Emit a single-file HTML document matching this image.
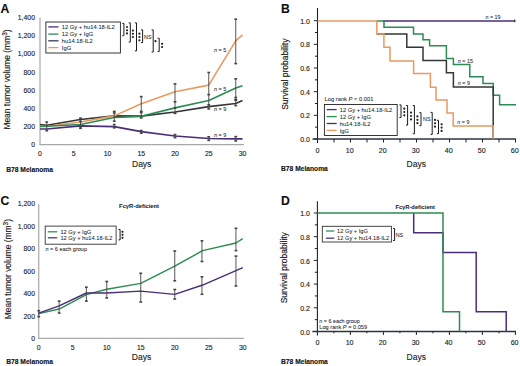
<!DOCTYPE html>
<html><head><meta charset="utf-8"><style>
html,body{margin:0;padding:0;background:#fff;width:520px;height:366px;overflow:hidden;}
svg{display:block;}
svg text{font-family:"Liberation Sans", sans-serif;}
</style></head><body>
<svg width="520" height="366" viewBox="0 0 520 366">
<rect width="520" height="366" fill="#fff"/>
<text transform="translate(0.40,12.60) scale(1,1.08)" font-size="12.2" text-anchor="start" font-weight="bold" font-style="normal" fill="#111" stroke="#111" stroke-width="0.12" >A</text>
<line x1="40.00" y1="17.50" x2="40.00" y2="144.60" stroke="#a8a8a8" stroke-width="1.2" />
<line x1="39.40" y1="144.70" x2="243.80" y2="144.70" stroke="#a8a8a8" stroke-width="1.3" />
<text transform="translate(35.00,147.45) scale(1,1.12)" font-size="6.9" text-anchor="end" font-weight="normal" font-style="normal" fill="#222" stroke="#222" stroke-width="0.12" >0</text>
<text transform="translate(35.00,129.25) scale(1,1.12)" font-size="6.9" text-anchor="end" font-weight="normal" font-style="normal" fill="#222" stroke="#222" stroke-width="0.12" >200</text>
<text transform="translate(35.00,111.05) scale(1,1.12)" font-size="6.9" text-anchor="end" font-weight="normal" font-style="normal" fill="#222" stroke="#222" stroke-width="0.12" >400</text>
<text transform="translate(35.00,92.85) scale(1,1.12)" font-size="6.9" text-anchor="end" font-weight="normal" font-style="normal" fill="#222" stroke="#222" stroke-width="0.12" >600</text>
<text transform="translate(35.00,74.65) scale(1,1.12)" font-size="6.9" text-anchor="end" font-weight="normal" font-style="normal" fill="#222" stroke="#222" stroke-width="0.12" >800</text>
<text transform="translate(35.00,56.45) scale(1,1.12)" font-size="6.9" text-anchor="end" font-weight="normal" font-style="normal" fill="#222" stroke="#222" stroke-width="0.12" >1,000</text>
<text transform="translate(35.00,38.25) scale(1,1.12)" font-size="6.9" text-anchor="end" font-weight="normal" font-style="normal" fill="#222" stroke="#222" stroke-width="0.12" >1,200</text>
<text transform="translate(35.00,20.05) scale(1,1.12)" font-size="6.9" text-anchor="end" font-weight="normal" font-style="normal" fill="#222" stroke="#222" stroke-width="0.12" >1,400</text>
<text transform="translate(40.00,156.00) scale(1,1.12)" font-size="6.9" text-anchor="middle" font-weight="normal" font-style="normal" fill="#222" stroke="#222" stroke-width="0.12" >0</text>
<text transform="translate(73.75,156.00) scale(1,1.12)" font-size="6.9" text-anchor="middle" font-weight="normal" font-style="normal" fill="#222" stroke="#222" stroke-width="0.12" >5</text>
<text transform="translate(107.50,156.00) scale(1,1.12)" font-size="6.9" text-anchor="middle" font-weight="normal" font-style="normal" fill="#222" stroke="#222" stroke-width="0.12" >10</text>
<text transform="translate(141.25,156.00) scale(1,1.12)" font-size="6.9" text-anchor="middle" font-weight="normal" font-style="normal" fill="#222" stroke="#222" stroke-width="0.12" >15</text>
<text transform="translate(175.00,156.00) scale(1,1.12)" font-size="6.9" text-anchor="middle" font-weight="normal" font-style="normal" fill="#222" stroke="#222" stroke-width="0.12" >20</text>
<text transform="translate(208.75,156.00) scale(1,1.12)" font-size="6.9" text-anchor="middle" font-weight="normal" font-style="normal" fill="#222" stroke="#222" stroke-width="0.12" >25</text>
<text transform="translate(242.50,156.00) scale(1,1.12)" font-size="6.9" text-anchor="middle" font-weight="normal" font-style="normal" fill="#222" stroke="#222" stroke-width="0.12" >30</text>
<text x="141.70" y="167.00" font-size="8.5" text-anchor="middle" font-weight="normal" font-style="normal" fill="#222" stroke="#222" stroke-width="0.12" >Days</text>
<text x="6.20" y="171.50" font-size="6.7" text-anchor="start" font-weight="bold" font-style="normal" fill="#111" stroke="#111" stroke-width="0.12" >B78 Melanoma</text>
<text transform="translate(9.9,79.5) rotate(-90)" font-size="8.45" text-anchor="middle" fill="#222" stroke="#222" stroke-width="0.15">Mean tumor volume (mm<tspan font-size="6.5" dy="-3.2">3</tspan><tspan dy="3.2">)</tspan></text>
<polyline points="40.00,124.52 46.75,125.24 80.50,119.57 114.25,115.88 141.25,116.15 175.00,112.01 208.75,106.61 235.75,103.46 242.50,100.49" fill="none" stroke="#363636" stroke-width="1.6" stroke-linejoin="round" stroke-linecap="butt"/>
<polyline points="40.00,126.68 46.75,126.50 80.50,122.00 114.25,115.88 141.25,103.73 175.00,91.76 208.75,85.10 235.75,40.82 242.50,34.97" fill="none" stroke="#e89a62" stroke-width="1.6" stroke-linejoin="round" stroke-linecap="butt"/>
<polyline points="40.00,126.23 46.75,126.23 80.50,124.43 114.25,117.50 141.25,116.33 175.00,107.87 208.75,100.49 235.75,87.98 242.50,85.64" fill="none" stroke="#2c8c52" stroke-width="1.6" stroke-linejoin="round" stroke-linecap="butt"/>
<polyline points="40.00,129.02 46.75,129.02 80.50,125.87 114.25,126.59 141.25,131.63 175.00,136.04 208.75,138.56 235.75,138.92 242.50,138.92" fill="none" stroke="#4a2e7a" stroke-width="1.6" stroke-linejoin="round" stroke-linecap="butt"/>
<line x1="46.75" y1="122.00" x2="46.75" y2="130.70" stroke="#444" stroke-width="0.9" />
<line x1="45.35" y1="122.00" x2="48.15" y2="122.00" stroke="#444" stroke-width="1.6" />
<line x1="45.35" y1="130.70" x2="48.15" y2="130.70" stroke="#444" stroke-width="1.6" />
<line x1="79.10" y1="121.50" x2="81.90" y2="121.50" stroke="#444" stroke-width="1.6" />
<line x1="79.10" y1="126.80" x2="81.90" y2="126.80" stroke="#444" stroke-width="1.6" />
<line x1="80.50" y1="118.20" x2="80.50" y2="128.30" stroke="#444" stroke-width="0.9" />
<line x1="79.10" y1="118.20" x2="81.90" y2="118.20" stroke="#444" stroke-width="1.6" />
<line x1="79.10" y1="128.30" x2="81.90" y2="128.30" stroke="#444" stroke-width="1.6" />
<line x1="112.85" y1="113.00" x2="115.65" y2="113.00" stroke="#444" stroke-width="1.6" />
<line x1="114.25" y1="111.40" x2="114.25" y2="121.20" stroke="#444" stroke-width="0.9" />
<line x1="112.85" y1="111.40" x2="115.65" y2="111.40" stroke="#444" stroke-width="1.6" />
<line x1="112.85" y1="121.20" x2="115.65" y2="121.20" stroke="#444" stroke-width="1.6" />
<line x1="114.25" y1="124.50" x2="114.25" y2="127.80" stroke="#444" stroke-width="0.9" />
<line x1="112.85" y1="124.50" x2="115.65" y2="124.50" stroke="#444" stroke-width="1.6" />
<line x1="112.85" y1="127.80" x2="115.65" y2="127.80" stroke="#444" stroke-width="1.6" />
<line x1="139.85" y1="111.40" x2="142.65" y2="111.40" stroke="#444" stroke-width="1.6" />
<line x1="139.85" y1="112.60" x2="142.65" y2="112.60" stroke="#444" stroke-width="1.6" />
<line x1="141.25" y1="96.60" x2="141.25" y2="117.90" stroke="#444" stroke-width="0.9" />
<line x1="139.85" y1="96.60" x2="142.65" y2="96.60" stroke="#444" stroke-width="1.6" />
<line x1="139.85" y1="117.90" x2="142.65" y2="117.90" stroke="#444" stroke-width="1.6" />
<line x1="141.25" y1="130.50" x2="141.25" y2="133.20" stroke="#444" stroke-width="0.9" />
<line x1="139.85" y1="130.50" x2="142.65" y2="130.50" stroke="#444" stroke-width="1.6" />
<line x1="139.85" y1="133.20" x2="142.65" y2="133.20" stroke="#444" stroke-width="1.6" />
<line x1="173.60" y1="101.80" x2="176.40" y2="101.80" stroke="#444" stroke-width="1.6" />
<line x1="173.60" y1="107.90" x2="176.40" y2="107.90" stroke="#444" stroke-width="1.6" />
<line x1="175.00" y1="83.90" x2="175.00" y2="113.40" stroke="#444" stroke-width="0.9" />
<line x1="173.60" y1="83.90" x2="176.40" y2="83.90" stroke="#444" stroke-width="1.6" />
<line x1="173.60" y1="113.40" x2="176.40" y2="113.40" stroke="#444" stroke-width="1.6" />
<line x1="175.00" y1="134.60" x2="175.00" y2="137.60" stroke="#444" stroke-width="0.9" />
<line x1="173.60" y1="134.60" x2="176.40" y2="134.60" stroke="#444" stroke-width="1.6" />
<line x1="173.60" y1="137.60" x2="176.40" y2="137.60" stroke="#444" stroke-width="1.6" />
<line x1="207.35" y1="94.60" x2="210.15" y2="94.60" stroke="#444" stroke-width="1.6" />
<line x1="207.35" y1="104.80" x2="210.15" y2="104.80" stroke="#444" stroke-width="1.6" />
<line x1="208.75" y1="72.50" x2="208.75" y2="108.90" stroke="#444" stroke-width="0.9" />
<line x1="207.35" y1="72.50" x2="210.15" y2="72.50" stroke="#444" stroke-width="1.6" />
<line x1="207.35" y1="108.90" x2="210.15" y2="108.90" stroke="#444" stroke-width="1.6" />
<line x1="208.75" y1="136.80" x2="208.75" y2="140.40" stroke="#444" stroke-width="0.9" />
<line x1="207.35" y1="136.80" x2="210.15" y2="136.80" stroke="#444" stroke-width="1.6" />
<line x1="207.35" y1="140.40" x2="210.15" y2="140.40" stroke="#444" stroke-width="1.6" />
<line x1="235.75" y1="19.20" x2="235.75" y2="63.60" stroke="#444" stroke-width="0.9" />
<line x1="234.35" y1="19.20" x2="237.15" y2="19.20" stroke="#444" stroke-width="1.6" />
<line x1="234.35" y1="63.60" x2="237.15" y2="63.60" stroke="#444" stroke-width="1.6" />
<line x1="234.35" y1="97.50" x2="237.15" y2="97.50" stroke="#444" stroke-width="1.6" />
<line x1="235.75" y1="78.80" x2="235.75" y2="99.60" stroke="#444" stroke-width="0.9" />
<line x1="234.35" y1="78.80" x2="237.15" y2="78.80" stroke="#444" stroke-width="1.6" />
<line x1="234.35" y1="99.60" x2="237.15" y2="99.60" stroke="#444" stroke-width="1.6" />
<line x1="235.75" y1="100.20" x2="235.75" y2="105.60" stroke="#444" stroke-width="0.9" />
<line x1="234.35" y1="100.20" x2="237.15" y2="100.20" stroke="#444" stroke-width="1.6" />
<line x1="234.35" y1="105.60" x2="237.15" y2="105.60" stroke="#444" stroke-width="1.6" />
<line x1="235.75" y1="136.60" x2="235.75" y2="141.00" stroke="#444" stroke-width="0.9" />
<line x1="234.35" y1="136.60" x2="237.15" y2="136.60" stroke="#444" stroke-width="1.6" />
<line x1="234.35" y1="141.00" x2="237.15" y2="141.00" stroke="#444" stroke-width="1.6" />
<text x="214.00" y="52.00" font-size="5.5" text-anchor="start" font-weight="normal" font-style="normal" fill="#222" stroke="#222" stroke-width="0.05" ><tspan font-style="italic">n</tspan> = 5</text>
<text x="214.00" y="90.90" font-size="5.5" text-anchor="start" font-weight="normal" font-style="normal" fill="#222" stroke="#222" stroke-width="0.05" ><tspan font-style="italic">n</tspan> = 5</text>
<text x="214.00" y="111.30" font-size="5.5" text-anchor="start" font-weight="normal" font-style="normal" fill="#222" stroke="#222" stroke-width="0.05" ><tspan font-style="italic">n</tspan> = 9</text>
<text x="214.00" y="136.60" font-size="5.5" text-anchor="start" font-weight="normal" font-style="normal" fill="#222" stroke="#222" stroke-width="0.05" ><tspan font-style="italic">n</tspan> = 9</text>
<rect x="45.9" y="22.0" width="74.5" height="31.0" fill="#fff" stroke="#222" stroke-width="0.9"/>
<line x1="48.30" y1="26.90" x2="58.50" y2="26.90" stroke="#4a2e7a" stroke-width="1.3" />
<text x="61.80" y="29.00" font-size="5.8" text-anchor="start" font-weight="normal" font-style="normal" fill="#222" stroke="#222" stroke-width="0.05" >12 Gy + hu14.18-IL2</text>
<line x1="48.30" y1="34.10" x2="58.50" y2="34.10" stroke="#2c8c52" stroke-width="1.3" />
<text x="61.80" y="36.20" font-size="5.8" text-anchor="start" font-weight="normal" font-style="normal" fill="#222" stroke="#222" stroke-width="0.05" >12 Gy + IgG</text>
<line x1="48.30" y1="40.80" x2="58.50" y2="40.80" stroke="#3a3a55" stroke-width="1.3" />
<text x="61.80" y="42.90" font-size="5.8" text-anchor="start" font-weight="normal" font-style="normal" fill="#222" stroke="#222" stroke-width="0.05" >hu14.18-IL2</text>
<line x1="48.30" y1="47.60" x2="58.50" y2="47.60" stroke="#e89a62" stroke-width="1.3" />
<text x="61.80" y="49.70" font-size="5.8" text-anchor="start" font-weight="normal" font-style="normal" fill="#222" stroke="#222" stroke-width="0.05" >IgG</text>
<polyline points="122.30,23.40 123.90,23.40 123.90,35.70 122.30,35.70" fill="none" stroke="#1a1a1a" stroke-width="1.0"/>
<circle cx="127.00" cy="27.00" r="1.1" fill="#222"/>
<circle cx="127.00" cy="30.30" r="1.1" fill="#222"/>
<circle cx="127.00" cy="33.40" r="1.1" fill="#222"/>
<polyline points="128.70,22.90 130.30,22.90 130.30,42.10 128.70,42.10" fill="none" stroke="#1a1a1a" stroke-width="1.0"/>
<circle cx="132.90" cy="30.60" r="1.1" fill="#222"/>
<circle cx="132.90" cy="33.80" r="1.1" fill="#222"/>
<circle cx="132.90" cy="37.00" r="1.1" fill="#222"/>
<polyline points="134.90,22.90 136.50,22.90 136.50,50.90 134.90,50.90" fill="none" stroke="#1a1a1a" stroke-width="1.0"/>
<circle cx="139.40" cy="33.70" r="1.1" fill="#222"/>
<circle cx="139.40" cy="37.00" r="1.1" fill="#222"/>
<circle cx="139.40" cy="40.30" r="1.1" fill="#222"/>
<polyline points="141.00,29.90 142.60,29.90 142.60,42.60 141.00,42.60" fill="none" stroke="#1a1a1a" stroke-width="1.0"/>
<text x="144.10" y="39.00" font-size="5.4" text-anchor="start" font-weight="normal" font-style="normal" fill="#222" stroke="#222" stroke-width="0.05" >NS</text>
<polyline points="151.60,29.90 153.20,29.90 153.20,52.00 151.60,52.00" fill="none" stroke="#1a1a1a" stroke-width="1.0"/>
<circle cx="155.50" cy="41.20" r="1.1" fill="#222"/>
<polyline points="157.60,38.20 159.20,38.20 159.20,51.60 157.60,51.60" fill="none" stroke="#1a1a1a" stroke-width="1.0"/>
<circle cx="162.10" cy="43.80" r="1.1" fill="#222"/>
<circle cx="162.10" cy="47.00" r="1.1" fill="#222"/>
<text transform="translate(280.90,12.80) scale(1,1.08)" font-size="12.2" text-anchor="start" font-weight="bold" font-style="normal" fill="#111" stroke="#111" stroke-width="0.12" >B</text>
<line x1="317.50" y1="8.00" x2="317.50" y2="143.00" stroke="#222" stroke-width="1.1" />
<line x1="313.90" y1="139.00" x2="317.50" y2="139.00" stroke="#222" stroke-width="1.0" />
<line x1="314.90" y1="127.17" x2="317.50" y2="127.17" stroke="#222" stroke-width="1.0" />
<line x1="313.90" y1="115.34" x2="317.50" y2="115.34" stroke="#222" stroke-width="1.0" />
<line x1="314.90" y1="103.51" x2="317.50" y2="103.51" stroke="#222" stroke-width="1.0" />
<line x1="313.90" y1="91.68" x2="317.50" y2="91.68" stroke="#222" stroke-width="1.0" />
<line x1="314.90" y1="79.85" x2="317.50" y2="79.85" stroke="#222" stroke-width="1.0" />
<line x1="313.90" y1="68.02" x2="317.50" y2="68.02" stroke="#222" stroke-width="1.0" />
<line x1="314.90" y1="56.19" x2="317.50" y2="56.19" stroke="#222" stroke-width="1.0" />
<line x1="313.90" y1="44.36" x2="317.50" y2="44.36" stroke="#222" stroke-width="1.0" />
<line x1="314.90" y1="32.53" x2="317.50" y2="32.53" stroke="#222" stroke-width="1.0" />
<line x1="313.90" y1="20.70" x2="317.50" y2="20.70" stroke="#222" stroke-width="1.0" />
<text transform="translate(309.90,142.10) scale(1,1.1)" font-size="7.0" text-anchor="end" font-weight="normal" font-style="normal" fill="#222" stroke="#222" stroke-width="0.12" >0.0</text>
<text transform="translate(309.90,118.44) scale(1,1.1)" font-size="7.0" text-anchor="end" font-weight="normal" font-style="normal" fill="#222" stroke="#222" stroke-width="0.12" >0.2</text>
<text transform="translate(309.90,94.78) scale(1,1.1)" font-size="7.0" text-anchor="end" font-weight="normal" font-style="normal" fill="#222" stroke="#222" stroke-width="0.12" >0.4</text>
<text transform="translate(309.90,71.12) scale(1,1.1)" font-size="7.0" text-anchor="end" font-weight="normal" font-style="normal" fill="#222" stroke="#222" stroke-width="0.12" >0.6</text>
<text transform="translate(309.90,47.46) scale(1,1.1)" font-size="7.0" text-anchor="end" font-weight="normal" font-style="normal" fill="#222" stroke="#222" stroke-width="0.12" >0.8</text>
<text transform="translate(309.90,23.80) scale(1,1.1)" font-size="7.0" text-anchor="end" font-weight="normal" font-style="normal" fill="#222" stroke="#222" stroke-width="0.12" >1.0</text>
<line x1="312.50" y1="139.00" x2="516.00" y2="139.00" stroke="#2a3540" stroke-width="1.3" />
<line x1="334.00" y1="139.00" x2="334.00" y2="142.50" stroke="#222" stroke-width="1.0" />
<line x1="350.50" y1="139.00" x2="350.50" y2="142.50" stroke="#222" stroke-width="1.0" />
<line x1="367.00" y1="139.00" x2="367.00" y2="142.50" stroke="#222" stroke-width="1.0" />
<line x1="383.50" y1="139.00" x2="383.50" y2="142.50" stroke="#222" stroke-width="1.0" />
<line x1="400.00" y1="139.00" x2="400.00" y2="142.50" stroke="#222" stroke-width="1.0" />
<line x1="416.50" y1="139.00" x2="416.50" y2="142.50" stroke="#222" stroke-width="1.0" />
<line x1="433.00" y1="139.00" x2="433.00" y2="142.50" stroke="#222" stroke-width="1.0" />
<line x1="449.50" y1="139.00" x2="449.50" y2="142.50" stroke="#222" stroke-width="1.0" />
<line x1="466.00" y1="139.00" x2="466.00" y2="142.50" stroke="#222" stroke-width="1.0" />
<line x1="482.50" y1="139.00" x2="482.50" y2="142.50" stroke="#222" stroke-width="1.0" />
<line x1="499.00" y1="139.00" x2="499.00" y2="142.50" stroke="#222" stroke-width="1.0" />
<line x1="515.50" y1="139.00" x2="515.50" y2="142.50" stroke="#222" stroke-width="1.0" />
<text transform="translate(317.50,152.90) scale(1,1.1)" font-size="7.1" text-anchor="middle" font-weight="normal" font-style="normal" fill="#222" stroke="#222" stroke-width="0.12" >0</text>
<text transform="translate(349.70,152.90) scale(1,1.1)" font-size="7.1" text-anchor="middle" font-weight="normal" font-style="normal" fill="#222" stroke="#222" stroke-width="0.12" >10</text>
<text transform="translate(382.70,152.90) scale(1,1.1)" font-size="7.1" text-anchor="middle" font-weight="normal" font-style="normal" fill="#222" stroke="#222" stroke-width="0.12" >20</text>
<text transform="translate(415.70,152.90) scale(1,1.1)" font-size="7.1" text-anchor="middle" font-weight="normal" font-style="normal" fill="#222" stroke="#222" stroke-width="0.12" >30</text>
<text transform="translate(448.70,152.90) scale(1,1.1)" font-size="7.1" text-anchor="middle" font-weight="normal" font-style="normal" fill="#222" stroke="#222" stroke-width="0.12" >40</text>
<text transform="translate(481.70,152.90) scale(1,1.1)" font-size="7.1" text-anchor="middle" font-weight="normal" font-style="normal" fill="#222" stroke="#222" stroke-width="0.12" >50</text>
<text transform="translate(514.70,152.90) scale(1,1.1)" font-size="7.1" text-anchor="middle" font-weight="normal" font-style="normal" fill="#222" stroke="#222" stroke-width="0.12" >60</text>
<text x="416.30" y="166.60" font-size="8.5" text-anchor="middle" font-weight="normal" font-style="normal" fill="#222" stroke="#222" stroke-width="0.12" >Days</text>
<text x="281.00" y="171.40" font-size="6.7" text-anchor="start" font-weight="bold" font-style="normal" fill="#111" stroke="#111" stroke-width="0.12" >B78 Melanoma</text>
<text transform="translate(287.9,74.2) rotate(-90) scale(1,1.1)" font-size="8.5" text-anchor="middle" fill="#222" stroke="#222" stroke-width="0.15">Survival probability</text>
<polyline points="383.00,20.90 515.50,20.90" fill="none" stroke="#4a2e7a" stroke-width="1.5" stroke-linejoin="miter" stroke-linecap="butt"/>
<polyline points="376.00,20.90 384.00,20.90 384.00,27.20 413.50,27.20 413.50,33.90 423.00,33.90 423.00,39.70 429.60,39.70 429.60,45.70 446.40,45.70 446.40,58.40 453.40,58.40 453.40,64.60 469.80,64.60 469.80,76.70 483.00,76.70 483.00,83.50 493.30,83.50 493.30,95.20 499.60,95.20 499.60,104.80 516.00,104.80" fill="none" stroke="#2c8c52" stroke-width="1.5" stroke-linejoin="miter" stroke-linecap="butt"/>
<polyline points="376.80,33.90 406.80,33.90 406.80,47.30 423.00,47.30 423.00,60.60 446.40,60.60 446.40,72.80 453.40,72.80 453.40,87.00 493.20,87.00 493.20,139.00" fill="none" stroke="#363636" stroke-width="1.5" stroke-linejoin="miter" stroke-linecap="butt"/>
<polyline points="317.50,20.90 376.80,20.90 376.80,33.90 383.90,33.90 383.90,47.30 390.00,47.30 390.00,60.90 413.60,60.90 413.60,73.60 430.40,73.60 430.40,87.20 436.00,87.20 436.00,99.90 447.00,99.90 447.00,112.90 453.20,112.90 453.20,126.10 493.20,126.10 493.20,139.00" fill="none" stroke="#e89a62" stroke-width="1.5" stroke-linejoin="miter" stroke-linecap="butt"/>
<line x1="514.60" y1="19.60" x2="514.60" y2="22.20" stroke="#333" stroke-width="1.0" />
<text x="485.40" y="19.00" font-size="5.4" text-anchor="start" font-weight="normal" font-style="normal" fill="#222" stroke="#222" stroke-width="0.05" ><tspan font-style="italic">n</tspan> = 19</text>
<text x="457.80" y="62.50" font-size="5.4" text-anchor="start" font-weight="normal" font-style="normal" fill="#222" stroke="#222" stroke-width="0.05" ><tspan font-style="italic">n</tspan> = 15</text>
<text x="457.80" y="85.40" font-size="5.4" text-anchor="start" font-weight="normal" font-style="normal" fill="#222" stroke="#222" stroke-width="0.05" ><tspan font-style="italic">n</tspan> = 9</text>
<text x="457.30" y="123.60" font-size="5.4" text-anchor="start" font-weight="normal" font-style="normal" fill="#222" stroke="#222" stroke-width="0.05" ><tspan font-style="italic">n</tspan> = 9</text>
<text x="324.60" y="101.10" font-size="5.75" text-anchor="start" font-weight="normal" font-style="normal" fill="#222" stroke="#222" stroke-width="0.05" >Log rank <tspan font-style="italic">P</tspan> &lt; 0.001</text>
<rect x="324.4" y="104.5" width="72.8" height="31.0" fill="#fff" stroke="#222" stroke-width="0.9"/>
<line x1="326.70" y1="109.60" x2="336.70" y2="109.60" stroke="#4a2e7a" stroke-width="1.3" />
<text x="339.70" y="111.70" font-size="5.75" text-anchor="start" font-weight="normal" font-style="normal" fill="#222" stroke="#222" stroke-width="0.05" >12 Gy + hu14.18-IL2</text>
<line x1="326.70" y1="116.60" x2="336.70" y2="116.60" stroke="#2c8c52" stroke-width="1.3" />
<text x="339.70" y="118.70" font-size="5.75" text-anchor="start" font-weight="normal" font-style="normal" fill="#222" stroke="#222" stroke-width="0.05" >12 Gy + IgG</text>
<line x1="326.70" y1="123.50" x2="336.70" y2="123.50" stroke="#3a3a55" stroke-width="1.3" />
<text x="339.70" y="125.60" font-size="5.75" text-anchor="start" font-weight="normal" font-style="normal" fill="#222" stroke="#222" stroke-width="0.05" >hu14.18-IL2</text>
<line x1="326.70" y1="130.40" x2="336.70" y2="130.40" stroke="#e89a62" stroke-width="1.3" />
<text x="339.70" y="132.50" font-size="5.75" text-anchor="start" font-weight="normal" font-style="normal" fill="#222" stroke="#222" stroke-width="0.05" >IgG</text>
<polyline points="399.40,104.90 401.00,104.90 401.00,117.50 399.40,117.50" fill="none" stroke="#1a1a1a" stroke-width="1.0"/>
<circle cx="404.30" cy="108.70" r="1.1" fill="#222"/>
<circle cx="404.30" cy="112.00" r="1.1" fill="#222"/>
<circle cx="404.30" cy="115.30" r="1.1" fill="#222"/>
<polyline points="406.00,105.50 407.60,105.50 407.60,125.10 406.00,125.10" fill="none" stroke="#1a1a1a" stroke-width="1.0"/>
<circle cx="411.00" cy="112.60" r="1.1" fill="#222"/>
<circle cx="411.00" cy="116.00" r="1.1" fill="#222"/>
<circle cx="411.00" cy="119.40" r="1.1" fill="#222"/>
<polyline points="412.80,105.50 414.40,105.50 414.40,133.80 412.80,133.80" fill="none" stroke="#1a1a1a" stroke-width="1.0"/>
<circle cx="417.40" cy="116.40" r="1.1" fill="#222"/>
<circle cx="417.40" cy="119.80" r="1.1" fill="#222"/>
<circle cx="417.40" cy="123.20" r="1.1" fill="#222"/>
<polyline points="419.40,112.60 421.00,112.60 421.00,125.70 419.40,125.70" fill="none" stroke="#1a1a1a" stroke-width="1.0"/>
<text x="423.00" y="121.00" font-size="5.4" text-anchor="start" font-weight="normal" font-style="normal" fill="#222" stroke="#222" stroke-width="0.05" >NS</text>
<polyline points="430.60,112.40 432.20,112.40 432.20,134.40 430.60,134.40" fill="none" stroke="#1a1a1a" stroke-width="1.0"/>
<circle cx="435.00" cy="119.90" r="1.1" fill="#222"/>
<circle cx="435.00" cy="123.30" r="1.1" fill="#222"/>
<circle cx="435.00" cy="126.70" r="1.1" fill="#222"/>
<polyline points="436.90,120.30 438.50,120.30 438.50,133.70 436.90,133.70" fill="none" stroke="#1a1a1a" stroke-width="1.0"/>
<circle cx="441.60" cy="124.30" r="1.1" fill="#222"/>
<circle cx="441.60" cy="127.60" r="1.1" fill="#222"/>
<circle cx="441.60" cy="130.90" r="1.1" fill="#222"/>
<text transform="translate(0.40,204.90) scale(1,1.08)" font-size="12.2" text-anchor="start" font-weight="bold" font-style="normal" fill="#111" stroke="#111" stroke-width="0.12" >C</text>
<line x1="38.75" y1="204.30" x2="38.75" y2="338.80" stroke="#a8a8a8" stroke-width="1.2" />
<line x1="38.20" y1="338.40" x2="243.80" y2="338.40" stroke="#a8a8a8" stroke-width="1.3" />
<text transform="translate(35.00,340.95) scale(1,1.12)" font-size="6.9" text-anchor="end" font-weight="normal" font-style="normal" fill="#222" stroke="#222" stroke-width="0.12" >0</text>
<text transform="translate(35.00,318.53) scale(1,1.12)" font-size="6.9" text-anchor="end" font-weight="normal" font-style="normal" fill="#222" stroke="#222" stroke-width="0.12" >200</text>
<text transform="translate(35.00,296.11) scale(1,1.12)" font-size="6.9" text-anchor="end" font-weight="normal" font-style="normal" fill="#222" stroke="#222" stroke-width="0.12" >400</text>
<text transform="translate(35.00,273.69) scale(1,1.12)" font-size="6.9" text-anchor="end" font-weight="normal" font-style="normal" fill="#222" stroke="#222" stroke-width="0.12" >600</text>
<text transform="translate(35.00,251.27) scale(1,1.12)" font-size="6.9" text-anchor="end" font-weight="normal" font-style="normal" fill="#222" stroke="#222" stroke-width="0.12" >800</text>
<text transform="translate(35.00,228.85) scale(1,1.12)" font-size="6.9" text-anchor="end" font-weight="normal" font-style="normal" fill="#222" stroke="#222" stroke-width="0.12" >1,000</text>
<text transform="translate(35.00,206.43) scale(1,1.12)" font-size="6.9" text-anchor="end" font-weight="normal" font-style="normal" fill="#222" stroke="#222" stroke-width="0.12" >1,200</text>
<text transform="translate(38.75,349.90) scale(1,1.12)" font-size="6.9" text-anchor="middle" font-weight="normal" font-style="normal" fill="#222" stroke="#222" stroke-width="0.12" >0</text>
<text transform="translate(72.75,349.90) scale(1,1.12)" font-size="6.9" text-anchor="middle" font-weight="normal" font-style="normal" fill="#222" stroke="#222" stroke-width="0.12" >5</text>
<text transform="translate(106.75,349.90) scale(1,1.12)" font-size="6.9" text-anchor="middle" font-weight="normal" font-style="normal" fill="#222" stroke="#222" stroke-width="0.12" >10</text>
<text transform="translate(140.75,349.90) scale(1,1.12)" font-size="6.9" text-anchor="middle" font-weight="normal" font-style="normal" fill="#222" stroke="#222" stroke-width="0.12" >15</text>
<text transform="translate(174.75,349.90) scale(1,1.12)" font-size="6.9" text-anchor="middle" font-weight="normal" font-style="normal" fill="#222" stroke="#222" stroke-width="0.12" >20</text>
<text transform="translate(208.75,349.90) scale(1,1.12)" font-size="6.9" text-anchor="middle" font-weight="normal" font-style="normal" fill="#222" stroke="#222" stroke-width="0.12" >25</text>
<text transform="translate(242.75,349.90) scale(1,1.12)" font-size="6.9" text-anchor="middle" font-weight="normal" font-style="normal" fill="#222" stroke="#222" stroke-width="0.12" >30</text>
<text x="141.50" y="359.60" font-size="8.5" text-anchor="middle" font-weight="normal" font-style="normal" fill="#222" stroke="#222" stroke-width="0.12" >Days</text>
<text x="6.20" y="363.70" font-size="6.7" text-anchor="start" font-weight="bold" font-style="normal" fill="#111" stroke="#111" stroke-width="0.12" >B78 Melanoma</text>
<text transform="translate(11.0,269.1) rotate(-90)" font-size="8.45" text-anchor="middle" fill="#222" stroke="#222" stroke-width="0.15">Mean tumor volume (mm<tspan font-size="6.5" dy="-3.2">3</tspan><tspan dy="3.2">)</tspan></text>
<text x="119.10" y="208.40" font-size="5.8" text-anchor="start" font-weight="bold" font-style="normal" fill="#222" stroke="#222" stroke-width="0.05" >FcγR-deficient</text>
<polyline points="38.75,313.64 59.15,309.04 86.35,294.58 106.75,289.31 140.75,283.37 174.75,266.22 202.63,250.64 235.95,243.01 242.75,238.64" fill="none" stroke="#2c8c52" stroke-width="1.45" stroke-linejoin="round" stroke-linecap="butt"/>
<polyline points="38.75,313.19 59.15,305.90 86.35,293.01 106.75,293.01 140.75,291.11 174.75,294.36 202.63,285.05 235.95,270.70 242.75,267.68" fill="none" stroke="#4a2e7a" stroke-width="1.45" stroke-linejoin="round" stroke-linecap="butt"/>
<line x1="38.75" y1="310.70" x2="38.75" y2="316.70" stroke="#444" stroke-width="0.9" />
<line x1="37.35" y1="310.70" x2="40.15" y2="310.70" stroke="#444" stroke-width="1.6" />
<line x1="37.35" y1="316.70" x2="40.15" y2="316.70" stroke="#444" stroke-width="1.6" />
<line x1="59.15" y1="301.10" x2="59.15" y2="313.00" stroke="#444" stroke-width="0.9" />
<line x1="57.75" y1="301.10" x2="60.55" y2="301.10" stroke="#444" stroke-width="1.6" />
<line x1="57.75" y1="313.00" x2="60.55" y2="313.00" stroke="#444" stroke-width="1.6" />
<line x1="86.35" y1="287.20" x2="86.35" y2="301.10" stroke="#444" stroke-width="0.9" />
<line x1="84.95" y1="287.20" x2="87.75" y2="287.20" stroke="#444" stroke-width="1.6" />
<line x1="84.95" y1="301.10" x2="87.75" y2="301.10" stroke="#444" stroke-width="1.6" />
<line x1="106.75" y1="281.50" x2="106.75" y2="297.90" stroke="#444" stroke-width="0.9" />
<line x1="105.35" y1="281.50" x2="108.15" y2="281.50" stroke="#444" stroke-width="1.6" />
<line x1="105.35" y1="297.90" x2="108.15" y2="297.90" stroke="#444" stroke-width="1.6" />
<line x1="140.75" y1="273.30" x2="140.75" y2="302.00" stroke="#444" stroke-width="0.9" />
<line x1="139.35" y1="273.30" x2="142.15" y2="273.30" stroke="#444" stroke-width="1.6" />
<line x1="139.35" y1="302.00" x2="142.15" y2="302.00" stroke="#444" stroke-width="1.6" />
<line x1="174.75" y1="251.00" x2="174.75" y2="280.80" stroke="#444" stroke-width="0.9" />
<line x1="173.35" y1="251.00" x2="176.15" y2="251.00" stroke="#444" stroke-width="1.6" />
<line x1="173.35" y1="280.80" x2="176.15" y2="280.80" stroke="#444" stroke-width="1.6" />
<line x1="174.75" y1="289.50" x2="174.75" y2="299.00" stroke="#444" stroke-width="0.9" />
<line x1="173.35" y1="289.50" x2="176.15" y2="289.50" stroke="#444" stroke-width="1.6" />
<line x1="173.35" y1="299.00" x2="176.15" y2="299.00" stroke="#444" stroke-width="1.6" />
<line x1="201.95" y1="240.80" x2="201.95" y2="261.50" stroke="#444" stroke-width="0.9" />
<line x1="200.55" y1="240.80" x2="203.35" y2="240.80" stroke="#444" stroke-width="1.6" />
<line x1="200.55" y1="261.50" x2="203.35" y2="261.50" stroke="#444" stroke-width="1.6" />
<line x1="201.95" y1="276.80" x2="201.95" y2="294.30" stroke="#444" stroke-width="0.9" />
<line x1="200.55" y1="276.80" x2="203.35" y2="276.80" stroke="#444" stroke-width="1.6" />
<line x1="200.55" y1="294.30" x2="203.35" y2="294.30" stroke="#444" stroke-width="1.6" />
<line x1="235.95" y1="228.30" x2="235.95" y2="250.60" stroke="#444" stroke-width="0.9" />
<line x1="234.55" y1="228.30" x2="237.35" y2="228.30" stroke="#444" stroke-width="1.6" />
<line x1="234.55" y1="250.60" x2="237.35" y2="250.60" stroke="#444" stroke-width="1.6" />
<line x1="235.95" y1="256.10" x2="235.95" y2="286.00" stroke="#444" stroke-width="0.9" />
<line x1="234.55" y1="256.10" x2="237.35" y2="256.10" stroke="#444" stroke-width="1.6" />
<line x1="234.55" y1="286.00" x2="237.35" y2="286.00" stroke="#444" stroke-width="1.6" />
<rect x="45.2" y="226.1" width="70.9" height="18.1" fill="#fff" stroke="#333" stroke-width="0.9"/>
<line x1="47.80" y1="231.80" x2="57.30" y2="231.80" stroke="#2c8c52" stroke-width="1.25" />
<text x="60.40" y="233.90" font-size="5.7" text-anchor="start" font-weight="normal" font-style="normal" fill="#222" stroke="#222" stroke-width="0.05" >12 Gy + IgG</text>
<line x1="47.80" y1="237.80" x2="57.30" y2="237.80" stroke="#4a2e7a" stroke-width="1.25" />
<text x="60.40" y="239.90" font-size="5.7" text-anchor="start" font-weight="normal" font-style="normal" fill="#222" stroke="#222" stroke-width="0.05" >12 Gy + hu14.18-IL2</text>
<polyline points="118.50,229.50 120.10,229.50 120.10,239.90 118.50,239.90" fill="none" stroke="#1a1a1a" stroke-width="1.0"/>
<circle cx="122.50" cy="231.80" r="1.1" fill="#222"/>
<circle cx="122.50" cy="234.80" r="1.1" fill="#222"/>
<circle cx="122.50" cy="237.80" r="1.1" fill="#222"/>
<text x="45.50" y="250.50" font-size="5.5" text-anchor="start" font-weight="normal" font-style="normal" fill="#222" stroke="#222" stroke-width="0.05" ><tspan font-style="italic">n</tspan> = 6 each group</text>
<text transform="translate(280.90,204.60) scale(1,1.08)" font-size="12.2" text-anchor="start" font-weight="bold" font-style="normal" fill="#111" stroke="#111" stroke-width="0.12" >D</text>
<line x1="317.40" y1="201.30" x2="317.40" y2="335.50" stroke="#222" stroke-width="1.1" />
<line x1="313.80" y1="331.50" x2="317.40" y2="331.50" stroke="#222" stroke-width="1.0" />
<line x1="314.80" y1="319.65" x2="317.40" y2="319.65" stroke="#222" stroke-width="1.0" />
<line x1="313.80" y1="307.80" x2="317.40" y2="307.80" stroke="#222" stroke-width="1.0" />
<line x1="314.80" y1="295.95" x2="317.40" y2="295.95" stroke="#222" stroke-width="1.0" />
<line x1="313.80" y1="284.10" x2="317.40" y2="284.10" stroke="#222" stroke-width="1.0" />
<line x1="314.80" y1="272.25" x2="317.40" y2="272.25" stroke="#222" stroke-width="1.0" />
<line x1="313.80" y1="260.40" x2="317.40" y2="260.40" stroke="#222" stroke-width="1.0" />
<line x1="314.80" y1="248.55" x2="317.40" y2="248.55" stroke="#222" stroke-width="1.0" />
<line x1="313.80" y1="236.70" x2="317.40" y2="236.70" stroke="#222" stroke-width="1.0" />
<line x1="314.80" y1="224.85" x2="317.40" y2="224.85" stroke="#222" stroke-width="1.0" />
<line x1="313.80" y1="213.00" x2="317.40" y2="213.00" stroke="#222" stroke-width="1.0" />
<text transform="translate(309.90,334.60) scale(1,1.1)" font-size="7.0" text-anchor="end" font-weight="normal" font-style="normal" fill="#222" stroke="#222" stroke-width="0.12" >0.0</text>
<text transform="translate(309.90,310.90) scale(1,1.1)" font-size="7.0" text-anchor="end" font-weight="normal" font-style="normal" fill="#222" stroke="#222" stroke-width="0.12" >0.2</text>
<text transform="translate(309.90,287.20) scale(1,1.1)" font-size="7.0" text-anchor="end" font-weight="normal" font-style="normal" fill="#222" stroke="#222" stroke-width="0.12" >0.4</text>
<text transform="translate(309.90,263.50) scale(1,1.1)" font-size="7.0" text-anchor="end" font-weight="normal" font-style="normal" fill="#222" stroke="#222" stroke-width="0.12" >0.6</text>
<text transform="translate(309.90,239.80) scale(1,1.1)" font-size="7.0" text-anchor="end" font-weight="normal" font-style="normal" fill="#222" stroke="#222" stroke-width="0.12" >0.8</text>
<text transform="translate(309.90,216.10) scale(1,1.1)" font-size="7.0" text-anchor="end" font-weight="normal" font-style="normal" fill="#222" stroke="#222" stroke-width="0.12" >1.0</text>
<line x1="312.40" y1="331.50" x2="516.00" y2="331.50" stroke="#2a3540" stroke-width="1.3" />
<line x1="333.90" y1="331.50" x2="333.90" y2="333.30" stroke="#222" stroke-width="1.0" />
<line x1="350.40" y1="331.50" x2="350.40" y2="335.00" stroke="#222" stroke-width="1.0" />
<line x1="366.90" y1="331.50" x2="366.90" y2="333.30" stroke="#222" stroke-width="1.0" />
<line x1="383.40" y1="331.50" x2="383.40" y2="335.00" stroke="#222" stroke-width="1.0" />
<line x1="399.90" y1="331.50" x2="399.90" y2="333.30" stroke="#222" stroke-width="1.0" />
<line x1="416.40" y1="331.50" x2="416.40" y2="335.00" stroke="#222" stroke-width="1.0" />
<line x1="432.90" y1="331.50" x2="432.90" y2="333.30" stroke="#222" stroke-width="1.0" />
<line x1="449.40" y1="331.50" x2="449.40" y2="335.00" stroke="#222" stroke-width="1.0" />
<line x1="465.90" y1="331.50" x2="465.90" y2="333.30" stroke="#222" stroke-width="1.0" />
<line x1="482.40" y1="331.50" x2="482.40" y2="335.00" stroke="#222" stroke-width="1.0" />
<line x1="498.90" y1="331.50" x2="498.90" y2="333.30" stroke="#222" stroke-width="1.0" />
<line x1="515.40" y1="331.50" x2="515.40" y2="335.00" stroke="#222" stroke-width="1.0" />
<text transform="translate(317.40,344.80) scale(1,1.1)" font-size="7.1" text-anchor="middle" font-weight="normal" font-style="normal" fill="#222" stroke="#222" stroke-width="0.12" >0</text>
<text transform="translate(349.60,344.80) scale(1,1.1)" font-size="7.1" text-anchor="middle" font-weight="normal" font-style="normal" fill="#222" stroke="#222" stroke-width="0.12" >10</text>
<text transform="translate(382.60,344.80) scale(1,1.1)" font-size="7.1" text-anchor="middle" font-weight="normal" font-style="normal" fill="#222" stroke="#222" stroke-width="0.12" >20</text>
<text transform="translate(415.60,344.80) scale(1,1.1)" font-size="7.1" text-anchor="middle" font-weight="normal" font-style="normal" fill="#222" stroke="#222" stroke-width="0.12" >30</text>
<text transform="translate(448.60,344.80) scale(1,1.1)" font-size="7.1" text-anchor="middle" font-weight="normal" font-style="normal" fill="#222" stroke="#222" stroke-width="0.12" >40</text>
<text transform="translate(481.60,344.80) scale(1,1.1)" font-size="7.1" text-anchor="middle" font-weight="normal" font-style="normal" fill="#222" stroke="#222" stroke-width="0.12" >50</text>
<text transform="translate(514.60,344.80) scale(1,1.1)" font-size="7.1" text-anchor="middle" font-weight="normal" font-style="normal" fill="#222" stroke="#222" stroke-width="0.12" >60</text>
<text x="416.30" y="359.60" font-size="8.5" text-anchor="middle" font-weight="normal" font-style="normal" fill="#222" stroke="#222" stroke-width="0.12" >Days</text>
<text x="281.00" y="363.90" font-size="6.7" text-anchor="start" font-weight="bold" font-style="normal" fill="#111" stroke="#111" stroke-width="0.12" >B78 Melanoma</text>
<text transform="translate(287.3,267.75) rotate(-90) scale(1,1.1)" font-size="8.5" text-anchor="middle" fill="#222" stroke="#222" stroke-width="0.15">Survival probability</text>
<polyline points="413.70,213.00 413.70,232.80 443.00,232.80 443.00,252.50 476.20,252.50 476.20,311.70 506.20,311.70 506.20,331.50" fill="none" stroke="#4a2e7a" stroke-width="1.5" stroke-linejoin="miter" stroke-linecap="butt"/>
<polyline points="317.40,213.00 443.00,213.00 443.00,311.70 459.50,311.70 459.50,331.50" fill="none" stroke="#2c8c52" stroke-width="1.5" stroke-linejoin="miter" stroke-linecap="butt"/>
<text x="395.40" y="208.80" font-size="5.75" text-anchor="start" font-weight="bold" font-style="normal" fill="#222" stroke="#222" stroke-width="0.05" >FcγR-deficient</text>
<rect x="322.3" y="226.3" width="69.1" height="15.7" fill="#fff" stroke="#333" stroke-width="0.9"/>
<line x1="325.90" y1="231.00" x2="334.30" y2="231.00" stroke="#2c8c52" stroke-width="1.25" />
<text x="337.10" y="233.10" font-size="5.7" text-anchor="start" font-weight="normal" font-style="normal" fill="#222" stroke="#222" stroke-width="0.05" >12 Gy + IgG</text>
<line x1="325.90" y1="238.20" x2="334.30" y2="238.20" stroke="#4a2e7a" stroke-width="1.25" />
<text x="337.10" y="240.30" font-size="5.7" text-anchor="start" font-weight="normal" font-style="normal" fill="#222" stroke="#222" stroke-width="0.05" >12 Gy + hu14.18-IL2</text>
<polyline points="393.00,228.40 394.60,228.40 394.60,240.50 393.00,240.50" fill="none" stroke="#1a1a1a" stroke-width="1.0"/>
<text x="395.70" y="237.20" font-size="5.4" text-anchor="start" font-weight="normal" font-style="normal" fill="#222" stroke="#222" stroke-width="0.05" >NS</text>
<text x="319.30" y="322.60" font-size="5.38" text-anchor="start" font-weight="normal" font-style="normal" fill="#222" stroke="#222" stroke-width="0.05" ><tspan font-style="italic">n</tspan> = 6 each group</text>
<text x="319.30" y="328.60" font-size="5.65" text-anchor="start" font-weight="normal" font-style="normal" fill="#222" stroke="#222" stroke-width="0.05" >Log rank <tspan font-style="italic">P</tspan> = 0.059</text>
</svg>
</body></html>
